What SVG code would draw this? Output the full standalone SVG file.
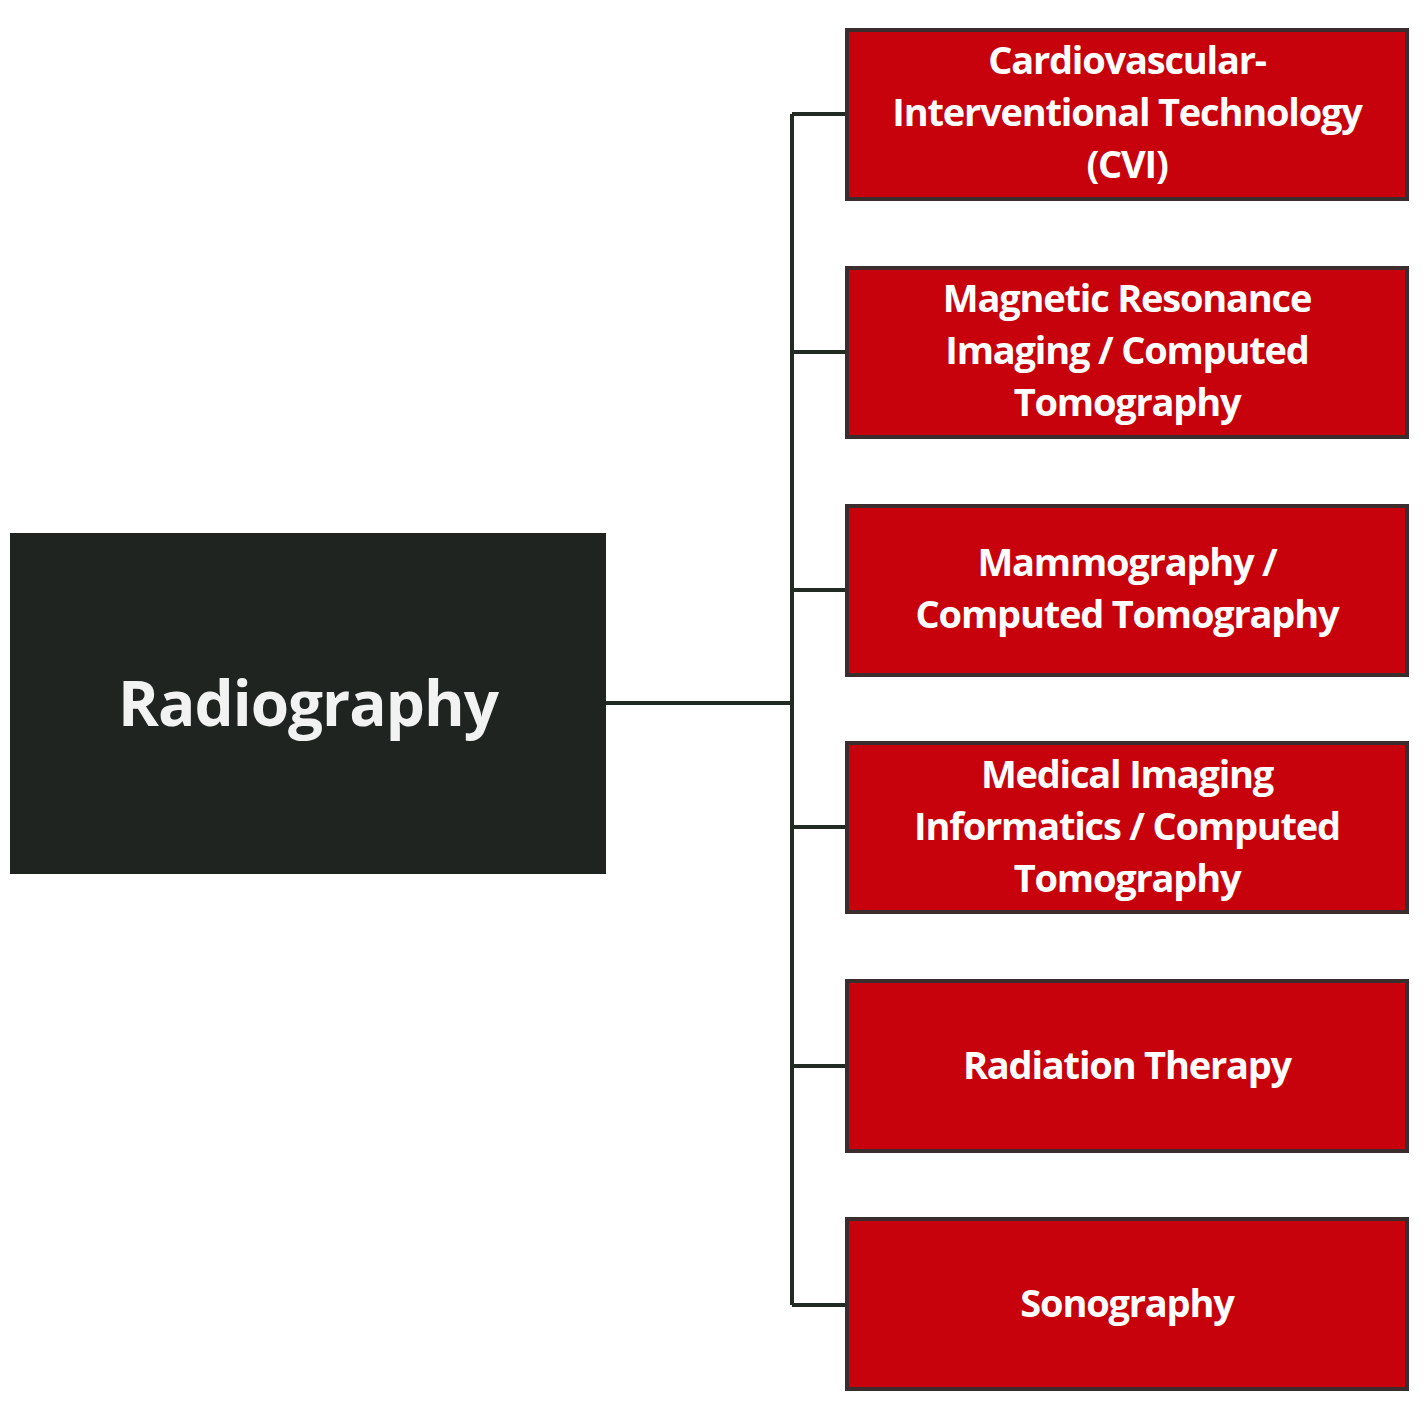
<svg xmlns="http://www.w3.org/2000/svg" width="1426" height="1416" viewBox="0 0 1426 1416">
<style>
.r{fill:#c8020c;stroke:#3b2d2d;stroke-width:4}
.t{fill:#fff;font-family:"Open Sans","Noto Sans",sans-serif;font-weight:bold;font-size:38px;text-anchor:middle;letter-spacing:-1.2px}
.c{fill:none;stroke:#222a24;stroke-width:4}
</style>
<rect width="1426" height="1416" fill="#fff"/>
<g id="connectors">
<path class="c" d="M606 703H792M792 114V1305M792 114H846M792 352H846M792 590H846M792 827H846M792 1066H846M792 1305H846"/>
</g>
<g id="radiography"><rect x="10" y="533" width="596" height="341" fill="#1f2420"/>
<text x="308" y="726" style="fill:#f2f2f2;font-family:'Open Sans','Noto Sans',sans-serif;font-weight:bold;font-size:62px;text-anchor:middle;letter-spacing:-1px">Radiography</text></g>
<g id="cvi"><rect class="r" x="847" y="30" width="560" height="169"/>
<text class="t" x="1127" y="74">Cardiovascular-</text><text class="t" x="1127" y="126">Interventional Technology</text><text class="t" x="1127" y="178">(CVI)</text></g>
<g id="mri"><rect class="r" x="847" y="268" width="560" height="169"/>
<text class="t" x="1127" y="312">Magnetic Resonance</text><text class="t" x="1127" y="364">Imaging / Computed</text><text class="t" x="1127" y="416">Tomography</text></g>
<g id="mammo"><rect class="r" x="847" y="506" width="560" height="169"/>
<text class="t" x="1127" y="576">Mammography /</text><text class="t" x="1127" y="628">Computed Tomography</text></g>
<g id="informatics"><rect class="r" x="847" y="743" width="560" height="169"/>
<text class="t" x="1127" y="788">Medical Imaging</text><text class="t" x="1127" y="840">Informatics / Computed</text><text class="t" x="1127" y="892">Tomography</text></g>
<g id="radiation"><rect class="r" x="847" y="981" width="560" height="170"/>
<text class="t" x="1127" y="1079">Radiation Therapy</text></g>
<g id="sono"><rect class="r" x="847" y="1219" width="560" height="170"/>
<text class="t" x="1127" y="1317">Sonography</text></g>
</svg>
